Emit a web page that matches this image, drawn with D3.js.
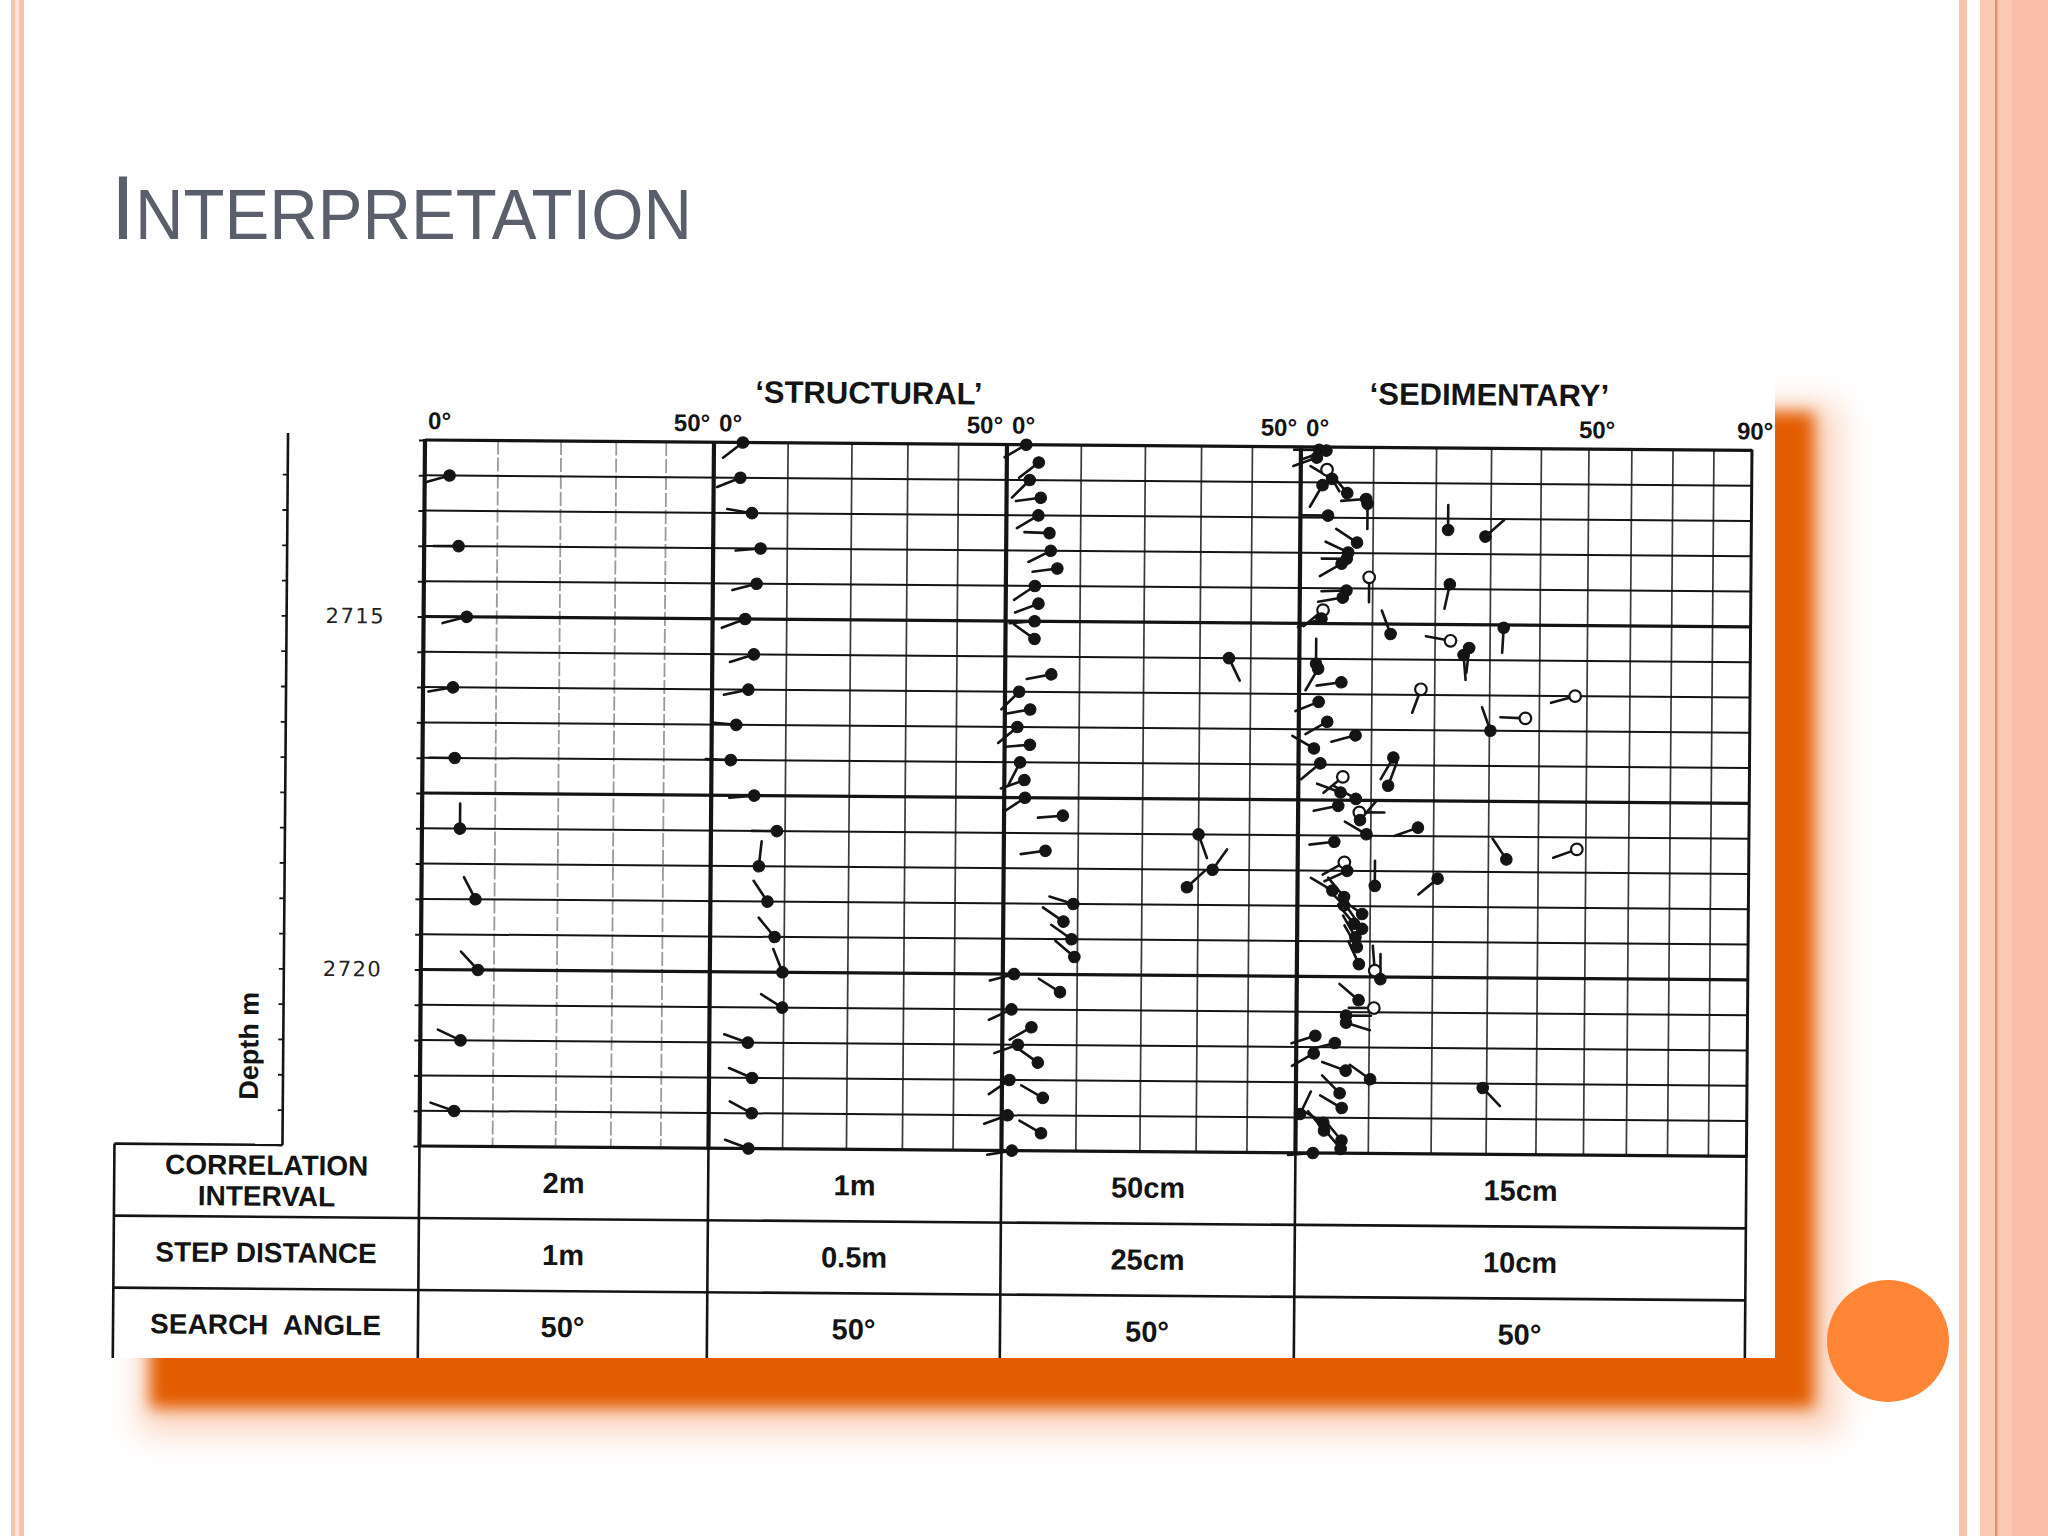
<!DOCTYPE html>
<html>
<head>
<meta charset="utf-8">
<script src="https://cdn.jsdelivr.net/npm/d3@7/dist/d3.min.js"></script>
<style>
  html, body { margin: 0; padding: 0; background: #ffffff; }
  svg { display: block; }
</style>
</head>
<body>
<svg id="chart" width="2048" height="1536"></svg>
<script>
// ---------------- DATA ----------------
const slideTitleFirst = "I";
const slideTitleRest = "NTERPRETATION";
const groupTitles = ["\u2018STRUCTURAL\u2019", "\u2018SEDIMENTARY\u2019"];
const depthLabels = [2715, 2720];
const depthDomain = [2712.5, 2722.5];
const dipTicks = [0, 10, 20, 30, 40, 50, 60, 70, 80, 90];
const panelMaxDip = [50, 50, 50, 90];
const depthTitle = "Depth m";

const rowLabels = [["CORRELATION", "INTERVAL"], ["STEP DISTANCE"], ["SEARCH  ANGLE"]];
const correlationInterval = ["2m", "1m", "50cm", "15cm"];
const stepDistance = ["1m", "0.5m", "25cm", "10cm"];
const searchAngle = ["50\u00b0", "50\u00b0", "50\u00b0", "50\u00b0"];

// tadpoles: [depth (m), dip (deg), dip azimuth (deg from north), open circle (1) / filled (0)]
const tadpoles2m = [
  [2713.0, 3.4, 254, 0], [2714.0, 4.7, 270, 0], [2715.0, 5.9, 255, 0],
  [2716.0, 4.1, 260, 0], [2717.0, 4.4, 270, 0], [2718.0, 5.2, 0, 0],
  [2719.0, 7.4, 332, 0], [2720.0, 7.8, 317, 0], [2721.0, 5.5, 295, 0],
  [2722.0, 4.7, 289, 0]
];
const tadpoles1m = [
  [2712.5, 3.9, 232, 0], [2713.0, 3.6, 248, 0], [2713.5, 5.2, 279, 0],
  [2714.0, 6.4, 265, 0], [2714.5, 5.9, 255, 0], [2715.0, 4.4, 249, 0],
  [2715.5, 5.6, 252, 0], [2716.0, 4.9, 258, 0], [2716.5, 3.3, 275, 0],
  [2717.0, 2.6, 272, 0], [2717.5, 5.8, 265, 0], [2718.0, 8.9, 270, 0],
  [2718.5, 6.5, 6, 0], [2719.0, 7.7, 326, 0], [2719.5, 8.7, 320, 0],
  [2720.0, 9.8, 338, 0], [2720.5, 9.8, 302, 0], [2721.0, 5.2, 289, 0],
  [2721.5, 5.8, 293, 0], [2722.0, 5.8, 298, 0], [2722.5, 5.4, 290, 0]
];
const tadpoles50cm = [
  [2712.5, 2.6, 240, 0], [2712.75, 4.3, 232, 0], [2713.0, 3.1, 225, 0],
  [2713.25, 4.6, 262, 0], [2713.5, 4.3, 239, 0], [2713.75, 5.8, 272, 0],
  [2714.0, 6.0, 243, 0], [2714.25, 6.9, 262, 0], [2714.5, 3.9, 236, 0],
  [2714.75, 4.4, 249, 0], [2715.0, 3.9, 265, 0], [2715.25, 3.9, 305, 0],
  [2715.5, 35.7, 154, 0], [2715.75, 6.2, 259, 0], [2716.0, 1.9, 225, 0],
  [2716.25, 3.4, 260, 0], [2716.5, 1.7, 230, 0], [2716.75, 3.4, 265, 0],
  [2717.0, 2.1, 207, 0], [2717.25, 2.7, 250, 0], [2717.5, 2.8, 236, 0],
  [2717.75, 7.9, 265, 0], [2718.0, 30.0, 160, 0], [2718.25, 5.6, 262, 0],
  [2718.5, 32.8, 35, 0], [2718.75, 28.0, 47, 0], [2719.0, 9.4, 287, 0],
  [2719.25, 8.1, 304, 0], [2719.5, 9.2, 305, 0], [2719.75, 9.6, 310, 0],
  [2720.0, 1.5, 255, 0], [2720.25, 7.7, 302, 0], [2720.5, 1.2, 245, 0],
  [2720.75, 3.9, 240, 0], [2721.0, 2.1, 250, 0], [2721.25, 4.8, 305, 0],
  [2721.5, 1.0, 235, 0], [2721.75, 5.5, 300, 0], [2722.0, 0.8, 250, 0],
  [2722.25, 5.3, 300, 0], [2722.5, 1.4, 260, 0]
];
const tadpoles15cm = [
  [2712.54, 2.5, 270, 0], [2712.55, 3.5, 250, 0], [2712.65, 2.2, 250, 0],
  [2712.82, 3.6, 150, 1], [2712.95, 4.3, 300, 0], [2713.04, 3.0, 210, 0],
  [2713.15, 6.4, 320, 0], [2713.23, 9.0, 265, 0], [2713.3, 9.2, 180, 0],
  [2713.47, 3.8, 270, 0], [2713.66, 22.2, 0, 0], [2713.75, 29.0, 48, 0],
  [2713.85, 7.8, 303, 0], [2713.99, 6.6, 295, 0], [2714.08, 6.4, 270, 0],
  [2714.15, 5.7, 240, 0], [2714.34, 9.5, 180, 1], [2714.43, 22.6, 192, 0],
  [2714.53, 6.4, 268, 0], [2714.63, 5.9, 260, 0], [2714.81, 3.2, 230, 1],
  [2714.93, 3.0, 250, 0], [2715.04, 32.7, 183, 0], [2715.14, 12.9, 339, 0],
  [2715.23, 22.8, 280, 1], [2715.33, 26.2, 186, 0], [2715.43, 25.2, 175, 0],
  [2715.57, 2.3, 0, 0], [2715.64, 2.6, 210, 0], [2715.83, 5.8, 262, 0],
  [2715.92, 17.8, 200, 1], [2716.0, 47.5, 254, 1], [2716.11, 2.7, 248, 0],
  [2716.32, 37.2, 272, 1], [2716.39, 3.9, 240, 0], [2716.5, 30.2, 340, 0],
  [2716.58, 7.8, 255, 0], [2716.77, 2.1, 300, 0], [2716.89, 13.5, 210, 0],
  [2716.98, 3.0, 230, 0], [2717.17, 6.1, 230, 1], [2717.29, 12.7, 20, 0],
  [2717.39, 5.8, 290, 0], [2717.48, 7.9, 300, 0], [2717.58, 5.5, 258, 0],
  [2717.67, 8.4, 90, 1], [2717.78, 8.5, 40, 0], [2717.88, 17.5, 250, 0],
  [2717.98, 9.4, 300, 0], [2718.09, 5.0, 263, 0], [2718.17, 48.1, 250, 1],
  [2718.32, 33.6, 326, 0], [2718.38, 6.4, 240, 1], [2718.5, 6.8, 245, 0],
  [2718.6, 20.8, 230, 0], [2718.71, 10.7, 0, 0], [2718.78, 4.8, 300, 0],
  [2718.87, 6.4, 320, 0], [2718.99, 6.4, 315, 0], [2719.11, 8.9, 305, 0],
  [2719.25, 7.8, 320, 0], [2719.32, 8.9, 325, 0], [2719.44, 8.0, 330, 0],
  [2719.58, 8.2, 330, 0], [2719.82, 8.5, 335, 0], [2719.91, 10.8, 355, 1],
  [2720.03, 11.7, 0, 0], [2720.33, 8.5, 310, 0], [2720.44, 10.7, 270, 1],
  [2720.55, 6.8, 90, 0], [2720.65, 6.8, 107, 0], [2720.84, 2.6, 252, 0],
  [2720.94, 5.3, 255, 0], [2721.09, 2.4, 240, 0], [2721.33, 6.8, 290, 0],
  [2721.45, 10.2, 305, 0], [2721.56, 29.3, 136, 0], [2721.65, 6.0, 315, 0],
  [2721.86, 6.3, 300, 0], [2721.95, 0.6, 25, 0], [2722.07, 3.8, 300, 0],
  [2722.18, 3.9, 320, 0], [2722.32, 6.3, 320, 0], [2722.44, 6.2, 320, 0],
  [2722.5, 2.4, 265, 0]
];
const panelData = [tadpoles2m, tadpoles1m, tadpoles50cm, tadpoles15cm];

// ---------------- LAYOUT ----------------
const svg = d3.select("#chart");
const W = 2048, H = 1536;
const pivot = [425, 440];          // top-left of first panel
const tilt = 0.45;                 // scanned figure is slightly rotated
const panelLefts = [425, 714, 1007, 1301];
const panelW50 = [289, 293, 294, 288];
// shape of the non-linear dip scale (relative to the 0-50 degree width)
const dipShape = [0, 0.253, 0.471, 0.662, 0.835, 1, 1.149, 1.292, 1.434, 1.566];
const tailLen = 25, dotR = 5.8;
const ink = "#141414";
const FONT = "'Liberation Sans', Arial, sans-serif";

const y = d3.scaleLinear().domain(depthDomain).range([440, 1146]);
const panels = panelMaxDip.map((mx, i) => {
  const ticks = dipTicks.filter(d => d <= mx);
  const x = d3.scaleLinear().domain(ticks)
    .range(ticks.map((d, k) => panelLefts[i] + panelW50[i] * dipShape[k]));
  return { ticks, x, max: mx, data: panelData[i], left: x(0), right: x(mx) };
});
const plotRight = panels[3].right;

// ---------------- SLIDE DECORATION ----------------
const defs = svg.append("defs");
const f1 = defs.append("filter").attr("id", "blur1")
  .attr("x", "-10%").attr("y", "-10%").attr("width", "120%").attr("height", "120%");
f1.append("feGaussianBlur").attr("stdDeviation", 8);
const f2 = defs.append("filter").attr("id", "blur2")
  .attr("x", "-10%").attr("y", "-10%").attr("width", "120%").attr("height", "120%");
f2.append("feGaussianBlur").attr("stdDeviation", 16);

// left stripe
svg.append("rect").attr("x", 11).attr("y", 0).attr("width", 13).attr("height", H).attr("fill", "#f9c2ac");
svg.append("rect").attr("x", 15).attr("y", 0).attr("width", 4).attr("height", H).attr("fill", "#fde4da");
// right stripes
svg.append("rect").attr("x", 1959).attr("y", 0).attr("width", 8).attr("height", H).attr("fill", "#f9c3ad");
svg.append("rect").attr("x", 1980).attr("y", 0).attr("width", 68).attr("height", H).attr("fill", "#fbcab7");
svg.append("rect").attr("x", 2012).attr("y", 0).attr("width", 36).attr("height", H).attr("fill", "#f9bfa8");
svg.append("rect").attr("x", 1995).attr("y", 0).attr("width", 2.5).attr("height", H).attr("fill", "#ef8d5e");

// title
const title = svg.append("text")
  .attr("x", 111).attr("y", 239)
  .attr("fill", "#5b5f6b")
  .attr("font-family", FONT)
  .attr("textLength", 581).attr("lengthAdjust", "spacingAndGlyphs");
title.append("tspan").attr("font-size", 91).text(slideTitleFirst);
title.append("tspan").attr("font-size", 71).text(slideTitleRest);

// orange shadow frame
svg.append("rect").attr("x", 140).attr("y", 404).attr("width", 1700).attr("height", 1030)
  .attr("fill", "#f7b48e").attr("opacity", 0.55).attr("filter", "url(#blur2)");
svg.append("rect").attr("x", 150).attr("y", 412).attr("width", 1664).attr("height", 996)
  .attr("fill", "#e35c00").attr("filter", "url(#blur1)");
// orange dot
svg.append("circle").attr("cx", 1888).attr("cy", 1341).attr("r", 61).attr("fill", "#fd8535");

// white picture area
const picRect = { x: 92, y: 360, w: 1775 - 92, h: 1358 - 360 };
svg.append("rect").attr("x", picRect.x).attr("y", picRect.y)
  .attr("width", picRect.w).attr("height", picRect.h).attr("fill", "#ffffff");
defs.append("clipPath").attr("id", "picClip").append("rect")
  .attr("x", picRect.x).attr("y", picRect.y).attr("width", picRect.w).attr("height", picRect.h);

const g = svg.append("g").attr("clip-path", "url(#picClip)")
  .append("g").attr("transform", `rotate(${tilt},${pivot[0]},${pivot[1]})`);

// ---------------- GRID ----------------
const halfMeters = d3.range(depthDomain[0], depthDomain[1] + 0.001, 0.5);
const gridG = g.append("g");

panels.forEach((p, i) => {
  // vertical dip lines (inside the panel)
  const inner = p.ticks.filter(d => d > 0 && d < p.max);
  gridG.selectAll(null).data(inner).join("line")
    .attr("x1", d => p.x(d)).attr("x2", d => p.x(d))
    .attr("y1", y(depthDomain[0])).attr("y2", y(depthDomain[1]))
    .attr("stroke", i === 0 ? "#9a9a9a" : "#3a3a3a")
    .attr("stroke-width", i === 0 ? 1.8 : 1.7)
    .attr("stroke-dasharray", i === 0 ? "14 3" : null);
});

// horizontal depth lines
gridG.selectAll(null).data(halfMeters).join("line")
  .attr("x1", panels[0].left).attr("x2", plotRight)
  .attr("y1", d => y(d)).attr("y2", d => y(d))
  .attr("stroke", ink)
  .attr("stroke-width", d => (Math.abs(((d - depthDomain[0]) / 2.5) - Math.round((d - depthDomain[0]) / 2.5)) < 1e-6) ? 3.2 : 2);

// panel borders
const borders = panels.map(p => p.left).concat([plotRight]);
gridG.selectAll(null).data(borders).join("line")
  .attr("x1", d => d).attr("x2", d => d)
  .attr("y1", y(depthDomain[0]) - 1).attr("y2", y(depthDomain[1]) + 1)
  .attr("stroke", ink).attr("stroke-width", (d, i) => i === borders.length - 1 ? 3 : 4.2);

// small ticks on left of first panel
g.append("g").attr("transform", `translate(${panels[0].left},0)`)
  .call(d3.axisLeft(y).tickValues(halfMeters).tickSize(6).tickFormat(""))
  .call(a => a.select(".domain").remove())
  .call(a => a.selectAll("line").attr("stroke", ink).attr("stroke-width", 2));

// ---------------- DEPTH AXIS ----------------
const depthAxisX = 288;
g.append("line").attr("x1", depthAxisX).attr("x2", depthAxisX)
  .attr("y1", y(depthDomain[0]) - 6).attr("y2", y(depthDomain[1]))
  .attr("stroke", ink).attr("stroke-width", 2.6);
g.append("g").attr("transform", `translate(${depthAxisX},0)`)
  .call(d3.axisLeft(y).tickValues(halfMeters.slice(1)).tickSize(5).tickFormat(""))
  .call(a => a.select(".domain").remove())
  .call(a => a.selectAll("line").attr("stroke", ink).attr("stroke-width", 1.8));
g.append("g").attr("transform", `translate(${depthAxisX},0)`)
  .call(d3.axisRight(y).tickValues(depthLabels).tickSize(0).tickPadding(39).tickFormat(d3.format("d")))
  .call(a => a.select(".domain").remove())
  .call(a => a.selectAll("text")
    .attr("font-family", "'DejaVu Sans', sans-serif").attr("font-size", 21)
    .attr("letter-spacing", 1.5).attr("fill", "#222"));

g.append("text")
  .attr("transform", `translate(254,${y(2721.1)}) rotate(-90)`)
  .attr("text-anchor", "middle").attr("dominant-baseline", "central")
  .attr("font-family", FONT).attr("font-weight", "bold").attr("font-size", 27)
  .attr("fill", ink).text(depthTitle);

// ---------------- DEGREE LABELS & TITLES ----------------
const labG = g.append("g").attr("font-family", FONT).attr("font-weight", "bold")
  .attr("font-size", 24).attr("fill", ink);
const labY = y(depthDomain[0]) - 11;
panels.forEach((p, i) => {
  labG.append("text").attr("x", p.left + (i === 0 ? 3 : 5)).attr("y", labY).text("0\u00b0");
  if (p.max === 50 && i < 3) {
    labG.append("text").attr("x", p.x(50) - 4).attr("y", labY).attr("text-anchor", "end").text("50\u00b0");
  } else {
    labG.append("text").attr("x", p.x(50) + 8).attr("y", labY).attr("text-anchor", "middle").text("50\u00b0");
    labG.append("text").attr("x", p.x(90) + 3).attr("y", labY).attr("text-anchor", "middle").text("90\u00b0");
  }
});
const titleG = g.append("g").attr("font-family", FONT).attr("font-weight", "bold")
  .attr("font-size", 31).attr("fill", ink).attr("text-anchor", "middle");
titleG.append("text").attr("x", (panels[1].left + panels[1].right) / 2 + 8).attr("y", 400).text(groupTitles[0]);
titleG.append("text").attr("x", panels[3].x(50) - 100).attr("y", 397).text(groupTitles[1]);

// ---------------- TADPOLES ----------------
panels.forEach(p => {
  const tg = g.append("g");
  const pts = p.data.map(d => {
    const cx = p.x(d[1]), cy = y(d[0]);
    const a = d[2] * Math.PI / 180;
    return { cx, cy, tx: cx + tailLen * Math.sin(a), ty: cy - tailLen * Math.cos(a), open: d[3] === 1 };
  });
  tg.selectAll("line").data(pts).join("line")
    .attr("x1", d => d.cx).attr("y1", d => d.cy)
    .attr("x2", d => d.tx).attr("y2", d => d.ty)
    .attr("stroke", ink).attr("stroke-width", 2.6).attr("stroke-linecap", "round");
  tg.selectAll("circle").data(pts).join("circle")
    .attr("cx", d => d.cx).attr("cy", d => d.cy).attr("r", dotR)
    .attr("fill", d => d.open ? "#ffffff" : ink)
    .attr("stroke", ink).attr("stroke-width", d => d.open ? 2.2 : 1);
});

// ---------------- TABLE ----------------
const tableLeft = 120;
const rowH = 72;
const tTop = y(depthDomain[1]);
const rowEdges = [0, 1, 2, 3].map(k => tTop + k * rowH);
const colEdges = [tableLeft].concat(borders);
const tg = g.append("g").attr("stroke", ink).attr("stroke-width", 2.6);
// top of label column
tg.append("line").attr("x1", tableLeft).attr("x2", depthAxisX).attr("y1", tTop).attr("y2", tTop);
rowEdges.slice(1).forEach(r =>
  tg.append("line").attr("x1", tableLeft).attr("x2", plotRight).attr("y1", r).attr("y2", r));
colEdges.forEach(c =>
  tg.append("line").attr("x1", c).attr("x2", c).attr("y1", tTop).attr("y2", rowEdges[3]));

const txtG = g.append("g").attr("font-family", FONT).attr("font-weight", "bold").attr("fill", ink)
  .attr("text-anchor", "middle").attr("dominant-baseline", "central");
const labCx = (tableLeft + panels[0].left) / 2;
rowLabels.forEach((lines, r) => {
  const cy = (rowEdges[r] + rowEdges[r + 1]) / 2;
  lines.forEach((t, k) => {
    txtG.append("text").attr("x", labCx).attr("y", cy + (k - (lines.length - 1) / 2) * 31)
      .attr("font-size", 28).attr("xml:space", "preserve").style("white-space", "pre").text(t);
  });
});
[correlationInterval, stepDistance, searchAngle].forEach((vals, r) => {
  const cy = (rowEdges[r] + rowEdges[r + 1]) / 2;
  vals.forEach((v, c) => {
    txtG.append("text").attr("x", (borders[c] + borders[c + 1]) / 2).attr("y", cy)
      .attr("font-size", 29).text(v);
  });
});
</script>
</body>
</html>
